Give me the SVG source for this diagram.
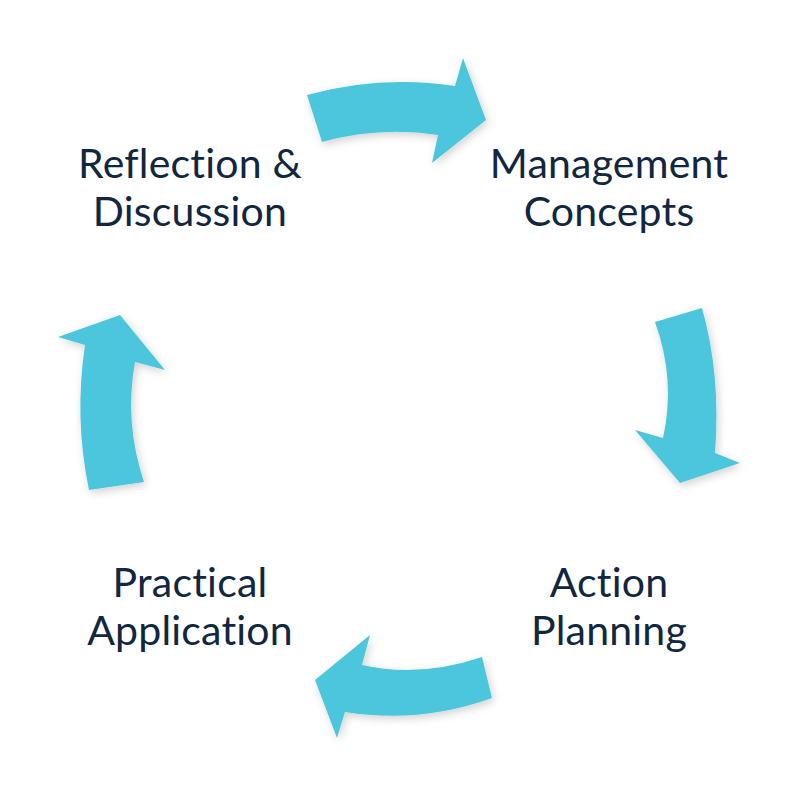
<svg xmlns="http://www.w3.org/2000/svg" width="800" height="800" viewBox="0 0 800 800">
<defs>
<filter id="sh" x="-30%" y="-30%" width="160%" height="160%">
<feGaussianBlur in="SourceAlpha" stdDeviation="4"/>
<feOffset dx="2" dy="3" result="b"/>
<feFlood flood-color="#000" flood-opacity="0.18"/>
<feComposite in2="b" operator="in"/>
<feMerge><feMergeNode/><feMergeNode in="SourceGraphic"/></feMerge>
</filter>
<style>
.arr{fill:#4BC6DC;filter:url(#sh)}
.t{font-family:Lato,"Open Sans",sans-serif;font-size:41px;fill:#11263F;text-anchor:middle;letter-spacing:0.2px;font-variant-ligatures:none;font-feature-settings:"liga" 0,"dlig" 0,"clig" 0,"calt" 0}
</style>
</defs>
<rect width="800" height="800" fill="#fff"/>
<g id="connectors">
<path class="arr" d="M307,95 Q380,75 455,86 L463,58 L486,120 L432,163 L438,135 Q380,126 322,142 Z"/>
<path class="arr" d="M655,322 L702,308 Q721,375 715,453 L740,463 L680,483 L635,430 L663,438 Q676,380 655,322 Z"/>
<path class="arr" d="M482,657 L492,698 Q420,724 345,712 L337,738 L315,680 L370,635 L362,665 Q420,678 482,657 Z"/>
<path class="arr" d="M89,490 Q74,418 85,345 L58,337 L120,315 L165,370 L135,362 Q124,422 144,482 Z"/>
</g>
<g id="reflection"><text class="t" x="190" y="178">Reflection &amp;</text><text class="t" x="190" y="226">Discussion</text></g>
<g id="management"><text class="t" x="609" y="178">Management</text><text class="t" x="609" y="226">Concepts</text></g>
<g id="action"><text class="t" x="609" y="597">Action</text><text class="t" x="609" y="645">Planning</text></g>
<g id="practical"><text class="t" x="190" y="597">Practical</text><text class="t" x="190" y="645">Application</text></g>
</svg>
